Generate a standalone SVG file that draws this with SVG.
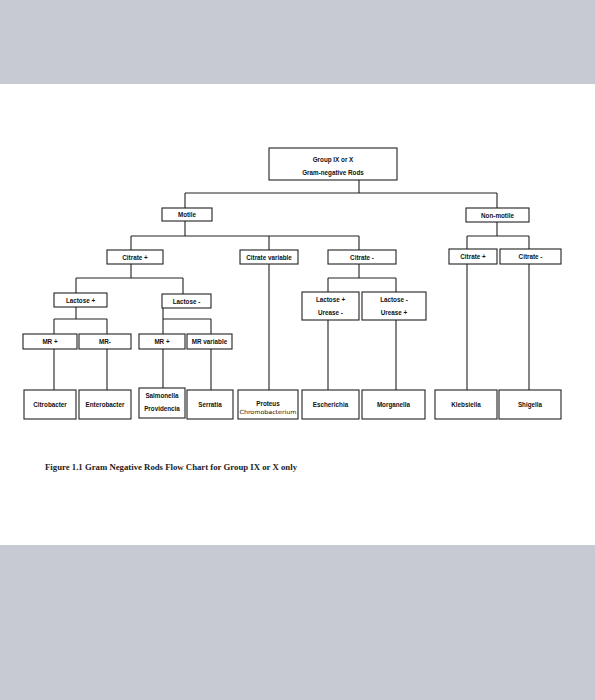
<svg xmlns="http://www.w3.org/2000/svg" width="595" height="700" viewBox="0 0 595 700">
<style>
.bg{fill:#c8cad3}
.box{fill:#fff;stroke:#222;stroke-width:1.1}
.t{font-family:"Liberation Sans",Arial,sans-serif;font-weight:bold;font-size:6.3px;fill:#111;text-anchor:middle}
.s{font-family:"DejaVu Sans",Verdana,sans-serif;font-size:5.6px;fill:#111;text-anchor:middle}
.c{fill:none;stroke:#222;stroke-width:1.1}
.cap{font-family:"Liberation Serif","Times New Roman",serif;font-weight:bold;font-size:8px;fill:#222}
</style>
<rect width="595" height="700" fill="#fff"/>
<rect class="bg" x="0" y="0" width="595" height="84"/>
<rect class="bg" x="0" y="545" width="595" height="155"/>
<g id="connectors">
<path class="c" d="M359 180V193M185 193H497M185 193V208M497 193V208"/>
<path class="c" d="M185 221V236M131 236H359M131 236V250M269 236V250M359 236V250"/>
<path class="c" d="M497 222V236M467 236H529M467 236V249M529 236V249"/>
<path class="c" d="M131 264V278M76 278H183M76 278V293M183 278V294"/>
<path class="c" d="M76 307V319M54 319H107M54 319V334M107 319V334"/>
<path class="c" d="M163 308V334M163 319H211M211 319V334"/>
<path class="c" d="M359 264V278M328 278H396M328 278V292M396 278V292"/>
<path class="c" d="M54 349V390M107 349V390M163 349V388M211 349V390M269 264V390M328 320V390M396 320V390M467 264V390M529 264V390"/>
</g>
<g id="n_root"><rect class="box" x="269" y="148" width="128" height="32"/><text class="t" x="333" y="162">Group IX or X</text><text class="t" x="333" y="175">Gram-negative Rods</text></g>
<g id="n_motile"><rect class="box" x="162" y="208" width="50" height="13"/><text class="t" x="187" y="217">Motile</text></g>
<g id="n_nonmotile"><rect class="box" x="466" y="208" width="63" height="14"/><text class="t" x="497.5" y="217.5">Non-motile</text></g>
<g id="n_citplus"><rect class="box" x="107" y="250" width="56" height="14"/><text class="t" x="135" y="259.5">Citrate +</text></g>
<g id="n_citvar"><rect class="box" x="240" y="250" width="58" height="14"/><text class="t" x="269" y="259.5">Citrate variable</text></g>
<g id="n_citminus"><rect class="box" x="328" y="250" width="68" height="14"/><text class="t" x="362" y="259.5">Citrate -</text></g>
<g id="n_nm_citplus"><rect class="box" x="449" y="249" width="48" height="15"/><text class="t" x="473" y="259">Citrate +</text></g>
<g id="n_nm_citminus"><rect class="box" x="500" y="249" width="61" height="15"/><text class="t" x="530.5" y="259">Citrate -</text></g>
<g id="n_lacplus"><rect class="box" x="54" y="293" width="53" height="14"/><text class="t" x="80.5" y="302.5">Lactose +</text></g>
<g id="n_lacminus"><rect class="box" x="162" y="294" width="49" height="14"/><text class="t" x="186.5" y="303.5">Lactose -</text></g>
<g id="n_lacurea1"><rect class="box" x="302" y="292" width="57" height="28"/><text class="t" x="330.5" y="302">Lactose +</text><text class="t" x="330.5" y="315">Urease -</text></g>
<g id="n_lacurea2"><rect class="box" x="362" y="292" width="64" height="28"/><text class="t" x="394" y="302">Lactose -</text><text class="t" x="394" y="315">Urease +</text></g>
<g id="n_mrplus1"><rect class="box" x="23" y="334" width="54" height="15"/><text class="t" x="50" y="344">MR +</text></g>
<g id="n_mrminus"><rect class="box" x="79" y="334" width="52" height="15"/><text class="t" x="105" y="344">MR-</text></g>
<g id="n_mrplus2"><rect class="box" x="139" y="334" width="46" height="15"/><text class="t" x="162" y="344">MR +</text></g>
<g id="n_mrvar"><rect class="box" x="187" y="334" width="45" height="15"/><text class="t" x="209.5" y="344">MR variable</text></g>
<g id="n_citrobacter"><rect class="box" x="24" y="390" width="52" height="29"/><text class="t" x="50" y="406.5">Citrobacter</text></g>
<g id="n_enterobacter"><rect class="box" x="79" y="390" width="52" height="29"/><text class="t" x="105" y="406.5">Enterobacter</text></g>
<g id="n_salmonella"><rect class="box" x="139" y="388" width="46" height="30"/><text class="t" x="162" y="398">Salmonella</text><text class="t" x="162" y="411">Providencia</text></g>
<g id="n_serratia"><rect class="box" x="187" y="390" width="46" height="29"/><text class="t" x="210" y="406.5">Serratia</text></g>
<g id="n_proteus"><rect class="box" x="238" y="390" width="60" height="29"/><text class="t" x="268" y="406">Proteus</text><text class="s" x="268" y="414" textLength="57" lengthAdjust="spacingAndGlyphs">Chromobacterium</text></g>
<g id="n_escherichia"><rect class="box" x="302" y="390" width="57" height="29"/><text class="t" x="330.5" y="406.5">Escherichia</text></g>
<g id="n_morganella"><rect class="box" x="362" y="390" width="63" height="29"/><text class="t" x="393.5" y="406.5">Morganella</text></g>
<g id="n_klebsiella"><rect class="box" x="435" y="390" width="62" height="29"/><text class="t" x="466" y="406.5">Klebsiella</text></g>
<g id="n_shigella"><rect class="box" x="499" y="390" width="62" height="29"/><text class="t" x="530" y="406.5">Shigella</text></g>
<text class="cap" x="45" y="470" textLength="252" lengthAdjust="spacingAndGlyphs">Figure 1.1 Gram Negative Rods Flow Chart for Group IX or X only</text>
</svg>
